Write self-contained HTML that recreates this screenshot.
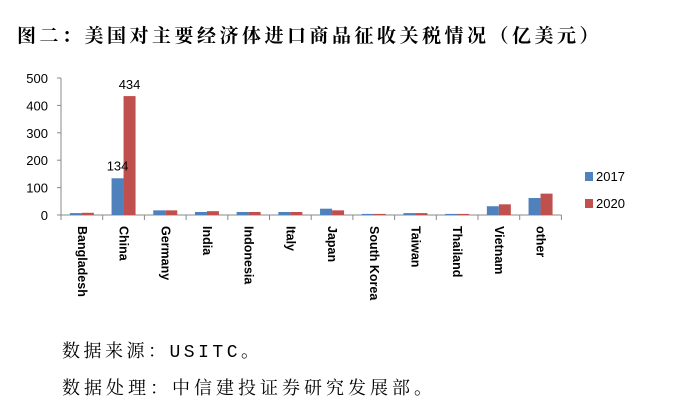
<!DOCTYPE html>
<html><head><meta charset="utf-8"><style>
body{margin:0;background:#fff;width:680px;height:413px;overflow:hidden;position:relative;font-family:"Liberation Sans","Noto Sans CJK SC",sans-serif}
.t{position:absolute;white-space:nowrap}
</style></head><body>
<div class="t" style="left:17px;top:21px;font-size:19px;font-weight:bold;font-family:'Liberation Serif','Noto Serif CJK SC',serif;letter-spacing:3.5px">图二：美国对主要经济体进口商品征收关税情况（亿美元）</div>
<svg id="c" width="680" height="413" style="position:absolute;left:0;top:0"></svg>
<div class="t" style="left:62px;top:337px;font-size:18px;letter-spacing:3.5px;font-family:'Liberation Mono','Noto Serif CJK SC',serif">数据来源：USITC。</div>
<div class="t" style="left:62px;top:374px;font-size:18px;letter-spacing:4px;font-family:'Liberation Sans','Noto Serif CJK SC',serif">数据处理：中信建投证券研究发展部。</div>
<script>
const categories=["Bangladesh","China","Germany","India","Indonesia","Italy","Japan","South Korea","Taiwan","Thailand","Vietnam","other"];
const values2017=[7,134,17,11,11,11,23,4,7,4,32,62];
const values2020=[8,434,17,14,11,11,17,4,7,4,39,78];
const yTicks=[0,100,200,300,400,500];
const seriesNames=["2017","2020"];
const colors=["#4f81bd","#c0504d"];
const svg=document.getElementById('c');const NS="http://www.w3.org/2000/svg";
const x0=61,step=41.7,y0=215,ppu=137/500;
const y=v=>y0-v*ppu;const xc=i=>x0+step*(i+0.5);
function mk(t,a,txt){const e=document.createElementNS(NS,t);for(const k in a)e.setAttribute(k,a[k]);if(txt!=null)e.textContent=txt;svg.appendChild(e);return e;}
let e=mk('line',{x1:x0,y1:y(500),x2:x0,y2:y0,stroke:'#888'});

e=mk('line',{x1:x0,y1:y0,x2:x0+step*categories.length,y2:y0,stroke:'#888'});

yTicks.forEach(v=>{
 let l=mk('line',{x1:x0-4,y1:y(v),x2:x0,y2:y(v),stroke:'#888'});
 
 let t=mk('text',{x:x0-13,y:y(v)+5,'text-anchor':'end','font-size':13,fill:'#000'},v);
 
});
for(let i=0;i<=categories.length;i++){
 let l=mk('line',{x1:x0+step*i,y1:y0,x2:x0+step*i,y2:y0+5,stroke:'#888'});
 
}
const bw=12;
categories.forEach((c,i)=>{
 [values2017,values2020].forEach((arr,s)=>{
  const v=arr[i];
  let r=mk('rect',{x:xc(i)-bw+s*bw,y:y(v),width:bw,height:v*ppu,fill:colors[s]});
  
  
 });
 let t=mk('text',{x:0,y:0,'font-size':12.5,'font-weight':'bold',transform:`translate(${xc(i)-4},${y0+11}) rotate(90)`},c);
 
});
let d=mk('text',{x:xc(1)-6,y:y(values2017[1])-8,'text-anchor':'middle','font-size':13},values2017[1]);

d=mk('text',{x:xc(1)+6,y:y(values2020[1])-7,'text-anchor':'middle','font-size':13},values2020[1]);

seriesNames.forEach((n,s)=>{
 let r=mk('rect',{x:585,y:172+s*27,width:8,height:9,fill:colors[s]});
 
 let t=mk('text',{x:596,y:181+s*27,'font-size':13},n);
 
});
</script>
</body></html>
